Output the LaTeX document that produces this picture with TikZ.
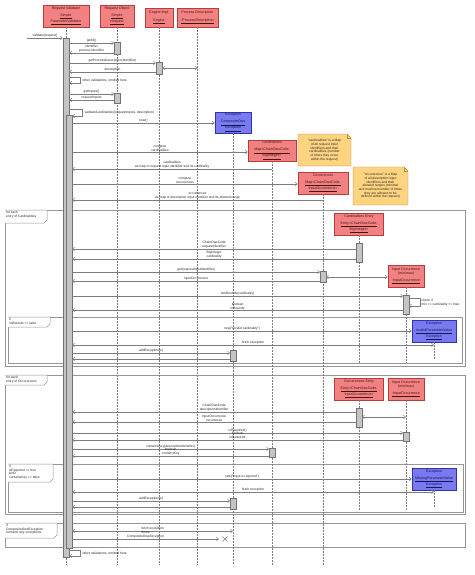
\documentclass[tikz,border=0pt]{standalone}
\usepackage{fontspec}
\setmainfont{Liberation Sans}
\usetikzlibrary{arrows.meta}
\definecolor{redfill}{RGB}{242,130,130}
\definecolor{redline}{RGB}{185,60,60}
\definecolor{redtext}{RGB}{70,20,20}
\definecolor{bluefill}{RGB}{122,122,240}
\definecolor{blueline}{RGB}{50,50,170}
\definecolor{bluetext}{RGB}{20,20,90}
\definecolor{notefill}{RGB}{255,212,128}
\definecolor{noteline}{RGB}{190,140,60}
\definecolor{barfill}{RGB}{196,196,196}
\definecolor{barline}{RGB}{115,115,115}
\definecolor{msgcol}{RGB}{125,125,125}
\definecolor{framecol}{RGB}{150,150,150}
\definecolor{txt}{RGB}{40,40,40}
\begin{document}
\begin{tikzpicture}[x=1pt,y=-1pt,
 every node/.style={font=\fontsize{3.3}{3.7}\selectfont, text=txt},
 part/.style={draw, line width=0.5pt, align=center, inner sep=0.5pt, font=\fontsize{3.6}{4.2}\selectfont},
 redp/.style={part, fill=redfill, draw=redline, text=redtext},
 bluep/.style={part, fill=bluefill, draw=blueline, text=bluetext},
 actbar/.style={draw=barline, fill=barfill, line width=0.4pt, minimum width=5.5pt, inner sep=0pt},
 life/.style={draw=msgcol, line width=0.4pt, dash pattern=on 1.5pt off 1.5pt},
 msg/.style={draw=msgcol, line width=0.45pt, -{Straight Barb[length=2.2pt,width=3.6pt]}},
 dmsg/.style={draw=msgcol, line width=0.45pt, {Straight Barb[length=2.2pt,width=3.6pt]}-{Straight Barb[length=2.2pt,width=3.6pt]}},
 lbl/.style={midway, above, inner sep=0.4pt, align=center},
 slbl/.style={anchor=west, inner sep=0.4pt, align=left},
 frame/.style={draw=framecol, line width=0.5pt},
 flabel/.style={anchor=north west, align=left, inner sep=0.6pt},
 notebox/.style={fill=notefill, draw=noteline, line width=0.4pt},
 notetext/.style={align=center, inner sep=0pt},
]
\fill[white] (0,0) rectangle (474,575);
\useasboundingbox (0,0) rectangle (474,575);

% ---------- frames ----------
\draw[frame] (5,210) rectangle (465,366);
\draw[frame, fill=white] (5,210) -- (47,210) -- (47,220) -- (44,223) -- (5,223);
\node[flabel] (F1) at (5.3,210.3) {for each\\entry of Cardinalities};
\draw[frame] (8,317) rectangle (462,363);
\draw[frame, fill=white] (8,317) -- (50,317) -- (50,324) -- (47,327) -- (8,327);
\node[flabel] (F2) at (8.3,317.3) {if\\!inBounds == false};
\draw[frame] (5,375) rectangle (465,514);
\draw[frame, fill=white] (5,375) -- (47,375) -- (47,382) -- (44,385) -- (5,385);
\node[flabel] (F3) at (5.3,375.3) {for each\\entry of Occurrences};
\draw[frame] (8,464) rectangle (463,512);
\draw[frame, fill=white] (8,464) -- (53,464) -- (53,479) -- (50,482) -- (8,482);
\node[flabel] (F4) at (8.3,464.3) {if\\isRequired == true\\AND\\containsKey == false};
\draw[frame] (5,523) rectangle (465,547);
\draw[frame, fill=white] (5,523) -- (57,523) -- (57,535) -- (54,538) -- (5,538);
\node[flabel] (F5) at (5.3,523.3) {if\\CompositeOwsException\\contains any exceptions.};

% ---------- participants ----------
\node[redp, minimum width=46, minimum height=22] (P1) at (66,16) {Request Validator\\[2.5pt]\underline{Simple}\\\underline{ParameterValidator}};
\node[redp, minimum width=34, minimum height=22] (P2) at (117,16) {Request Object\\[2.5pt]\underline{Simple}\\\underline{Request}};
\node[redp, minimum width=28, minimum height=19] (P3) at (159,17.5) {Engine Impl\\[3pt]\underline{Engine}};
\node[redp, minimum width=41, minimum height=19] (P4) at (197.5,17.5) {Process Description\\[3pt]\underline{:ProcessDescription}};
\node[bluep, minimum width=36, minimum height=21] (P5) at (233,122.5) {Exception\\[2.5pt]\underline{CompositeOws}\\\underline{Exception}};
\node[redp, minimum width=48, minimum height=21] (P6) at (272,150.5) {Cardinalities\\[2.5pt]\underline{Map<ChainOwsCode,}\\\underline{BigInteger>}};
\node[redp, minimum width=50, minimum height=22] (P7) at (323,183) {Occurrences\\[2.5pt]\underline{Map<ChainOwsCode,}\\\underline{InputOccurrence>}};
\node[redp, minimum width=49, minimum height=22] (P8) at (359,224) {Cardinalities Entry\\[2.5pt]\underline{Entry<ChainOwsCode,}\\\underline{BigInteger>}};
\node[redp, minimum width=36, minimum height=22] (P9) at (406,276) {Input Occurrence\\(min/max)\\[2.5pt]\underline{:InputOccurrence}};
\node[bluep, minimum width=44, minimum height=22] (P10) at (434,331) {Exception\\[2.5pt]\underline{InvalidParameterValue}\\\underline{Exception}};
\node[redp, minimum width=49, minimum height=22] (P11) at (359,389) {Occurrences Entry\\[2.5pt]\underline{Entry<ChainOwsCode,}\\\underline{InputOccurrence>}};
\node[redp, minimum width=36, minimum height=22] (P12) at (406,389) {Input Occurrence\\(min/max)\\[2.5pt]\underline{:InputOccurrence}};
\node[bluep, minimum width=44, minimum height=22] (P13) at (434,479) {Exception\\[2.5pt]\underline{MissingParameterValue}\\\underline{Exception}};

% ---------- notes ----------
\filldraw[notebox] (298,134) -- (347,134) -- (351,138) -- (351,166) -- (298,166) -- cycle;
\draw[noteline, line width=0.4pt] (347,134) -- (347,138) -- (351,138);
\node[notetext] (N1) at (324.5,150) {"cardinalities" is a Map\\of all request input\\identifiers and their\\cardinalities (number\\of times they occur\\within the request)};
\filldraw[notebox] (353,167) -- (404,167) -- (408,171) -- (408,205) -- (353,205) -- cycle;
\draw[noteline, line width=0.4pt] (404,167) -- (404,171) -- (408,171);
\node[notetext] (N2) at (380.5,186) {"occurrences" is a Map\\of all description input\\identifiers and their\\allowed ranges (minimal\\and maximal number of times\\they are allowed to be\\defined within the request)};

% ---------- lifelines ----------
\draw[life] (P1.south) -- (P1.south |- 0,565);
\draw[life] (P2.south) -- (P2.south |- 0,565);
\draw[life] (P3.south) -- (P3.south |- 0,565);
\draw[life] (P4.south) -- (P4.south |- 0,565);
\draw[life] (P5.south) -- (P5.south |- 0,565);
\draw[life] (P6.south) -- (P6.south |- 0,565);
\draw[life] (P7.south) -- (P7.south |- 0,565);
\draw[life] (P8.south) -- (P8.south |- 0,363);
\draw[life] (P9.south) -- (P9.south |- 0,363);
\draw[life] (P10.south) -- (P10.south |- 0,359);
\draw[life] (P11.south) -- (P11.south |- 0,510);
\draw[life] (P12.south) -- (P12.south |- 0,510);
\draw[life] (P13.south) -- (P13.south |- 0,507);

% ---------- activation bars ----------
\node[actbar, minimum width=6, minimum height=519] (A0) at (66,297.5) {};
\node[actbar, minimum width=6, minimum height=433] (A0b) at (69,331.5) {};
\node[actbar, minimum height=12] (A1) at (117,48) {};
\node[actbar, minimum width=6, minimum height=12] (A2) at (159,68) {};
\node[actbar, minimum height=10] (A3) at (117,98) {};
\node[actbar, minimum height=19] (A4) at (359,252.5) {};
\node[actbar, minimum height=11] (A5) at (323,276.5) {};
\node[actbar, minimum height=19] (A6) at (406,304.5) {};
\node[actbar, minimum height=11] (A7) at (233,355.5) {};
\node[actbar, minimum height=19] (A8) at (359,417.5) {};
\node[actbar, minimum height=9] (A9) at (406,436.5) {};
\node[actbar, minimum height=9] (A10) at (272,452.5) {};
\node[actbar, minimum height=11] (A11) at (233,503.5) {};

% ---------- messages ----------
\coordinate (found) at (27,38);
\draw[msg] (found) -- node[lbl] (m1) {validate(request)} (A0.west |- found);
\draw[msg] (A0.east |- 0,43) -- node[lbl] (m2) {getId()} (A1.west |- 0,43);
\draw[msg] (A1.west |- 0,53) -- node[lbl] (m3) {identifier\\process identifier} (A0.east |- 0,53);
\draw[msg] (A0.east |- 0,63) -- node[lbl] (m4) {getProcessDescription(identifier)} (A2.west |- 0,63);
\draw[dmsg] (A2.east |- 0,68) -- (P4.south |- 0,68);
\draw[msg] (A2.west |- 0,72) -- node[lbl] (m6) {description} (A0.east |- 0,72);
\draw[msg] (A0.east |- 0,77) -- (80,77) -- (80,83) -- (A0.east |- 0,83);
\node[slbl] (m7) at (82,80.5) {other validations, omitted here};
\draw[msg] (A0.east |- 0,94) -- node[lbl] (m8) {getInputs()} (A3.west |- 0,94);
\draw[msg] (A3.west |- 0,100) -- node[lbl] (m9) {requestInputs} (A0.east |- 0,100);
\draw[msg] (A0.east |- 0,109) -- (82,109) -- (82,116) -- (A0b.east |- 0,116);
\node[slbl] (m10) at (84,113) {validateCardinalities(requestInputs, description)};
\draw[msg] (A0b.east |- 0,123) -- node[lbl] (m11) {new()} (P5.west |- 0,123);
\draw[msg] (A0b.east |- 0,152) -- node[lbl] (m12) {compute\\cardinalities} (P6.west |- 0,152);
\draw[msg] (P6.south |- 0,169) -- node[lbl] (m13) {cardinalities\\as map of request input identifier and its cardinality} (A0b.east |- 0,169);
\draw[msg] (A0b.east |- 0,184) -- node[lbl] (m14) {compute\\occurrences} (P7.west |- 0,184);
\draw[msg] (P7.south |- 0,200) -- node[lbl] (m15) {occurrences\\as map of description input identifier and its allowed range} (A0b.east |- 0,200);
% loop cardinalities
\draw[msg] (A4.west |- 0,249) -- node[lbl] (m17) {ChainOwsCode\\requestIdentifier} (A0b.east |- 0,249);
\draw[msg] (A4.west |- 0,259) -- node[lbl] (m18) {BigInteger\\cardinality} (A0b.east |- 0,259);
\draw[msg] (A0b.east |- 0,272) -- node[lbl] (m19) {get(requestInputIdentifier)} (A5.west |- 0,272);
\draw[dmsg] (A5.east |- 0,277) -- (P9.west |- 0,277);
\draw[msg] (A5.west |- 0,281) -- node[lbl] (m21) {inputOccurrence} (A0b.east |- 0,281);
\draw[msg] (A0b.east |- 0,296) -- node[lbl] (m22) {isInBounds(cardinality)} (A6.west |- 0,296);
\draw[msg] (A6.east |- 0,298) -- (420,298) -- (420,306) -- (A6.east |- 0,306);
\node[slbl] (m23) at (421,302.5) {check if\\min <= cardinality <= max};
\draw[msg] (A6.west |- 0,310) -- node[lbl] (m24) {boolean\\inBounds} (A0b.east |- 0,310);
\draw[msg] (A0b.east |- 0,331) -- node[lbl] (m26) {new("Invalid cardinality")} (P10.west |- 0,331);
\draw[dmsg] (A0b.east |- 0,345) -- node[lbl] (m27) {fetch exception} (P10.south |- 0,345);
\draw[msg] (A0b.east |- 0,353) -- node[lbl] (m28) {addException(e)} (A7.west |- 0,353);
\draw[msg] (A7.west |- 0,359) -- (A0b.east |- 0,359);
% loop occurrences
\draw[msg] (A8.west |- 0,412) -- node[lbl] (m31) {ChainOwsCode\\descriptionIdentifier} (A0b.east |- 0,412);
\draw[dmsg] (A8.east |- 0,417) -- (P12.south |- 0,417);
\draw[msg] (A8.west |- 0,422) -- node[lbl] (m33) {InputOccurrence\\occurrence} (A0b.east |- 0,422);
\draw[msg] (A0b.east |- 0,433) -- node[lbl] (m34) {isRequired()} (A9.west |- 0,433);
\draw[msg] (A9.west |- 0,440) -- node[lbl] (m35) {boolean\\isRequired} (A0b.east |- 0,440);
\draw[msg] (A0b.east |- 0,449) -- node[lbl] (m36) {containsKey(descriptionIdentifier)} (A10.west |- 0,449);
\draw[msg] (A10.west |- 0,456) -- node[lbl] (m37) {boolean\\containsKey} (A0b.east |- 0,456);
\draw[msg] (A0b.east |- 0,479) -- node[lbl] (m39) {new("Input is required")} (P13.west |- 0,479);
\draw[dmsg] (A0b.east |- 0,492) -- node[lbl] (m40) {fetch exception} (P13.south |- 0,492);
\draw[msg] (A0b.east |- 0,501) -- node[lbl] (m41) {addException(e)} (A11.west |- 0,501);
\draw[msg] (A11.west |- 0,507) -- (A0b.east |- 0,507);
% final block
\draw[dmsg] (A0b.east |- 0,531) -- node[lbl] (m44) {fetch exception} (P5.south |- 0,531);
\coordinate (lost) at (219,539);
\draw[msg] (A0b.east |- lost) -- node[lbl] (m45) {throw\\CompositeOwsException} (lost);
\draw[msgcol, line width=0.5pt] (222.5,536.5) -- (227.5,541.5) (222.5,541.5) -- (227.5,536.5);
\draw[msg] (A0.east |- 0,550) -- (80,550) -- (80,556) -- (A0.east |- 0,556);
\node[slbl] (m46) at (82,554) {other validations, omitted here};
\end{tikzpicture}
\end{document}
